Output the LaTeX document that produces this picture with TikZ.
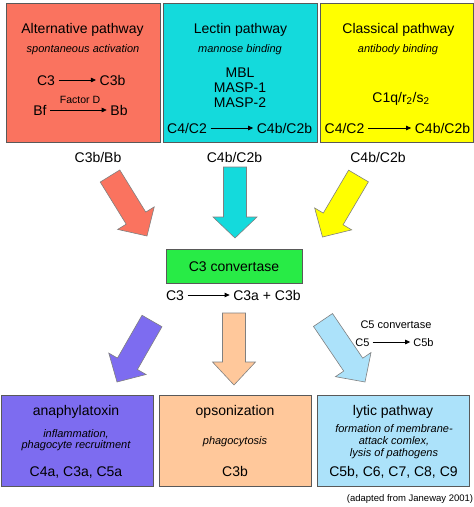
\documentclass[tikz,border=0pt]{standalone}
\usepackage{fontspec}
\setmainfont{Liberation Sans}
\usetikzlibrary{calc,arrows.meta}
\definecolor{altred}{RGB}{250,115,95}
\definecolor{lectcyan}{RGB}{20,218,220}
\definecolor{classyel}{RGB}{255,255,0}
\definecolor{convgreen}{RGB}{40,235,70}
\definecolor{anapurple}{RGB}{125,108,240}
\definecolor{opspeach}{RGB}{255,200,155}
\definecolor{lytblue}{RGB}{172,226,250}
\newcommand\fatarrow[6]{%
  \coordinate (fh) at ($(#2)!#6!(#1)$);
  \draw[fatline, fill=#3] ($(#1)!#4!90:(#2)$) -- ($(fh)!#4!-90:(#1)$) -- ($(fh)!#5!-90:(#1)$) -- (#2)
    -- ($(fh)!#5!90:(#1)$) -- ($(fh)!#4!90:(#1)$) -- ($(#1)!#4!-90:(#2)$) -- cycle;
}
\tikzset{
  box/.style={draw=black!65, line width=0.8pt, inner sep=0pt},
  ttl/.style={font=\fontsize{14}{16}\selectfont, anchor=base, inner sep=0pt},
  itl/.style={font=\fontsize{11}{12}\selectfont\itshape, anchor=base, inner sep=0pt},
  smalltxt/.style={font=\fontsize{11}{12}\selectfont, anchor=base, inner sep=0pt},
  tinytxt/.style={font=\fontsize{10.5}{11}\selectfont, anchor=base, inner sep=0pt},
  foot/.style={font=\fontsize{9.5}{10}\selectfont, anchor=base, inner sep=0pt},
  rx/.style={font=\fontsize{14}{16}\selectfont, anchor=base, inner sep=3.5pt, text height=10pt, text depth=0pt},
  rxs/.style={font=\fontsize{11}{12}\selectfont, anchor=base, inner sep=3pt, text height=8pt, text depth=0pt},
  rxarrow/.style={-{Triangle[length=5pt,width=4.5pt]}, line width=0.8pt},
  fatline/.style={draw=black!50, line width=0.6pt, line join=miter}
}
\begin{document}
\begin{tikzpicture}[x=1pt,y=-1pt]
\useasboundingbox (0,0) rectangle (474,507);
% top boxes
\node[box, fill=altred, minimum width=154pt, minimum height=139pt] (alt) at (83,72.5) {};
\node[box, fill=lectcyan, minimum width=154pt, minimum height=139pt] (lect) at (240,72.5) {};
\node[box, fill=classyel, minimum width=153.5pt, minimum height=139pt] (class) at (396.75,72.5) {};
% alternative
\node[ttl] (altT) at (82.5,33) {Alternative pathway};
\node[itl] (altS) at (83,52) {spontaneous activation};
\node[rx] (c3) at (46,85) {C3};
\node[rx] (c3b) at (112.5,85) {C3b};
\draw[rxarrow] (c3) -- (c3b);
\node[tinytxt] (fd) at (80,103) {Factor D};
\node[rx] (bf) at (40,115) {Bf};
\node[rx] (bb) at (119,115) {Bb};
\draw[rxarrow] (bf) -- (bb);
% lectin
\node[ttl] (lectT) at (240.5,33) {Lectin pathway};
\node[itl] (lectS) at (240,52) {mannose binding};
\node[ttl] (mbl) at (240,77) {MBL};
\node[ttl] (masp1) at (240,92.5) {MASP-1};
\node[ttl] (masp2) at (240,107) {MASP-2};
\node[rx] (lc4) at (187,133) {C4/C2};
\node[rx] (lc4b) at (284.5,133) {C4b/C2b};
\draw[rxarrow] (lc4) -- (lc4b);
% classical
\node[ttl] (classT) at (398.5,33) {Classical pathway};
\node[itl] (classS) at (398,52) {antibody binding};
\node[ttl] (c1q) at (401,102) {C1q/r\textsubscript{2}/s\textsubscript{2}};
\node[rx] (cc4) at (344.5,133) {C4/C2};
\node[rx] (cc4b) at (442.5,133) {C4b/C2b};
\draw[rxarrow] (cc4) -- (cc4b);
% products
\node[ttl] (p1) at (98,162) {C3b/Bb};
\node[ttl] (p2) at (234.5,162) {C4b/C2b};
\node[ttl] (p3) at (378,162) {C4b/C2b};
% big arrows in
\coordinate (a1t) at (110,176); \coordinate (a1h) at (147,236);
\coordinate (a2t) at (235,167); \coordinate (a2h) at (235,238);
\coordinate (a3t) at (358.5,176); \coordinate (a3h) at (322.5,237);
\fatarrow{a1t}{a1h}{altred}{11.5pt}{21.5pt}{21pt}
\fatarrow{a2t}{a2h}{lectcyan}{11.5pt}{22pt}{21pt}
\fatarrow{a3t}{a3h}{classyel}{11.5pt}{21.5pt}{21pt}
% C3 convertase
\node[box, fill=convgreen, minimum width=136pt, minimum height=34pt] (conv) at (234,266) {};
\node[ttl] (convT) at (234,271) {C3 convertase};
\node[rx] (k3) at (175,300) {C3};
\node[rx] (k3ab) at (267,300) {C3a + C3b};
\draw[rxarrow] (k3) -- (k3ab);
% big arrows out
\coordinate (b1t) at (152,321); \coordinate (b1h) at (117,382);
\coordinate (b2t) at (234,313); \coordinate (b2h) at (234,385);
\coordinate (b3t) at (323,320); \coordinate (b3h) at (365,382);
\fatarrow{b1t}{b1h}{anapurple}{11.5pt}{21.5pt}{21pt}
\fatarrow{b2t}{b2h}{opspeach}{11.5pt}{21.5pt}{23pt}
\fatarrow{b3t}{b3h}{lytblue}{11.5pt}{21.5pt}{21pt}
% C5 convertase
\node[smalltxt] (c5conv) at (396,328) {C5 convertase};
\node[rxs] (c5) at (362.5,346) {C5};
\node[rxs] (c5b) at (423.5,346) {C5b};
\draw[rxarrow] (c5) -- (c5b);
% bottom boxes
\node[box, fill=anapurple, minimum width=152pt, minimum height=91pt] (ana) at (77,440.5) {};
\node[box, fill=opspeach, minimum width=152pt, minimum height=91pt] (ops) at (235,440.5) {};
\node[box, fill=lytblue, minimum width=152pt, minimum height=91pt] (lyt) at (393,440.5) {};
\node[ttl] (anaT) at (76,415) {anaphylatoxin};
\node[itl] (anaS1) at (76,437) {inflammation,};
\node[itl] (anaS2) at (76,448) {phagocyte recruitment};
\node[ttl] (anaC) at (76,476) {C4a, C3a, C5a};
\node[ttl] (opsT) at (235,415) {opsonization};
\node[itl] (opsS) at (235,444) {phagocytosis};
\node[ttl] (opsC) at (235,476) {C3b};
\node[ttl] (lytT) at (393,415) {lytic pathway};
\node[itl] (lytS1) at (394,432) {formation of membrane-};
\node[itl] (lytS2) at (394,444) {attack comlex,};
\node[itl] (lytS3) at (394,456) {lysis of pathogens};
\node[ttl] (lytC) at (393.5,476) {C5b, C6, C7, C8, C9};
\node[foot] (src) at (410,501) {(adapted from Janeway 2001)};
\end{tikzpicture}
\end{document}
